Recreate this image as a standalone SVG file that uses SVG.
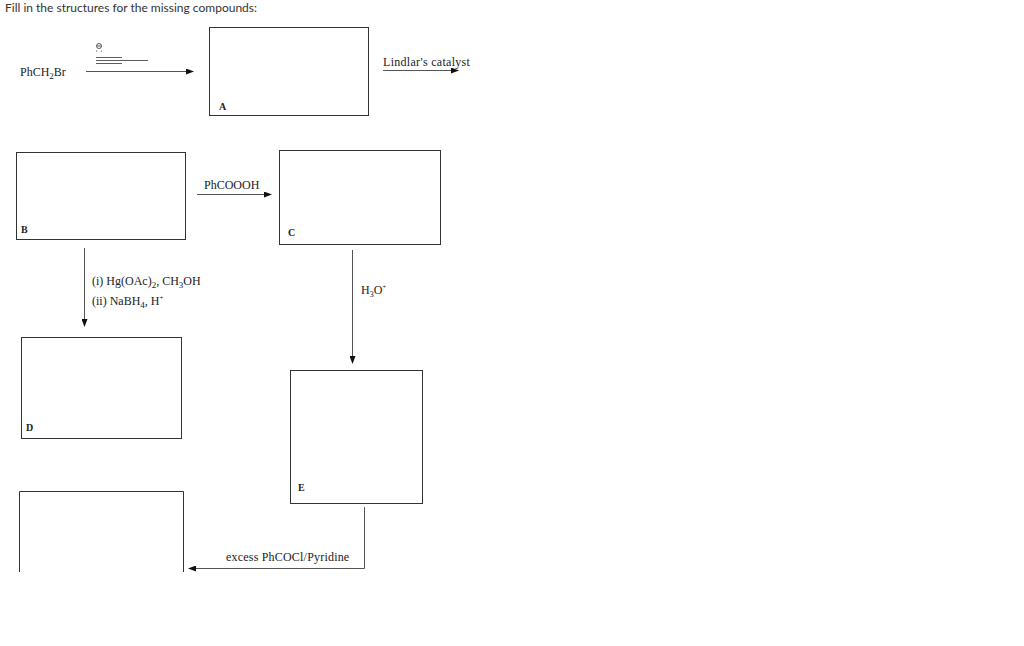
<svg xmlns="http://www.w3.org/2000/svg" width="1024" height="646" viewBox="0 0 1024 646">
<style>
.box{fill:#fff;stroke:#333;stroke-width:1}
.t{font-family:"Liberation Serif",serif;font-size:12px;fill:#222}
.lbl{font-family:"Liberation Serif",serif;font-size:10px;font-weight:bold;fill:#222}
.ln{stroke:#555;stroke-width:1;fill:none}
</style>
<defs><marker id="ah" markerWidth="8" markerHeight="6" refX="7" refY="3" orient="auto" markerUnits="userSpaceOnUse"><path d="M0,0 L8,3 L0,6 z" fill="#111"/></marker></defs>
<rect width="1024" height="646" fill="#fff"/>
<text x="5" y="12" style="font-family:Lato,sans-serif;font-size:12px;fill:#333">Fill in the structures for the missing compounds:</text>
<g id="A"><rect class="box" x="209.5" y="27.5" width="159" height="88"/><text class="lbl" x="219" y="110">A</text></g>
<g id="B"><rect class="box" x="16.5" y="152.5" width="169" height="87"/><text class="lbl" x="21" y="233">B</text></g>
<g id="C"><rect class="box" x="279.5" y="150.5" width="161" height="94"/><text class="lbl" x="288" y="236">C</text></g>
<g id="D"><rect class="box" x="21.5" y="337.5" width="160" height="101"/><text class="lbl" x="26" y="431">D</text></g>
<g id="E"><rect class="box" x="290.5" y="370.5" width="132" height="133"/><text class="lbl" x="298" y="491">E</text></g>
<g id="F"><path class="box" d="M19.5,572 V491.5 H183.5 V572"/></g>
<g id="connectors">
<line class="ln" x1="86" y1="71.5" x2="193" y2="71.5" marker-end="url(#ah)"/>
<line class="ln" x1="383" y1="70.5" x2="458" y2="70.5" marker-end="url(#ah)"/>
<line class="ln" x1="197" y1="194.5" x2="271" y2="194.5" marker-end="url(#ah)"/>
<line class="ln" x1="84.5" y1="248" x2="84.5" y2="326" marker-end="url(#ah)"/>
<line class="ln" x1="352.5" y1="250" x2="352.5" y2="363" marker-end="url(#ah)"/>
<path class="ln" d="M364.5,507 V568.5 H189" marker-end="url(#ah)"/>
</g>
<g id="reagents">
<text class="t" x="20" y="76" font-size="13">PhCH<tspan font-size="9" dy="3">2</tspan><tspan dy="-3">Br</tspan></text>
<circle cx="99" cy="46" r="2.5" fill="none" stroke="#333" stroke-width="0.8"/><line x1="97" y1="46" x2="101" y2="46" stroke="#333" stroke-width="0.8"/>
<circle cx="96.5" cy="51" r="0.6" fill="#333"/><circle cx="101.5" cy="51" r="0.6" fill="#333"/>
<g stroke="#333" stroke-width="0.8"><line x1="96" y1="57.5" x2="122" y2="57.5"/><line x1="96" y1="60.5" x2="148" y2="60.5"/><line x1="96" y1="63.5" x2="122" y2="63.5"/></g>
<text class="t" x="383" y="66" font-size="11" letter-spacing="0.3">Lindlar's catalyst</text>
<text class="t" x="204" y="189" font-size="11">PhCOOOH</text>
<text class="t" x="92" y="285">(i) Hg(OAc)<tspan font-size="9" dy="3">2</tspan><tspan dy="-3">, CH</tspan><tspan font-size="9" dy="3">3</tspan><tspan dy="-3">OH</tspan></text>
<text class="t" x="92" y="305">(ii) NaBH<tspan font-size="9" dy="3">4</tspan><tspan dy="-3">, H</tspan><tspan font-size="7" dy="-5">+</tspan></text>
<text class="t" x="361" y="294" font-size="11">H<tspan font-size="8" dy="3">3</tspan><tspan dy="-3">O</tspan><tspan font-size="7" dy="-5">+</tspan></text>
<text class="t" x="226" y="561" font-size="11" letter-spacing="0.2">excess PhCOCl/Pyridine</text>
</g>
</svg>
